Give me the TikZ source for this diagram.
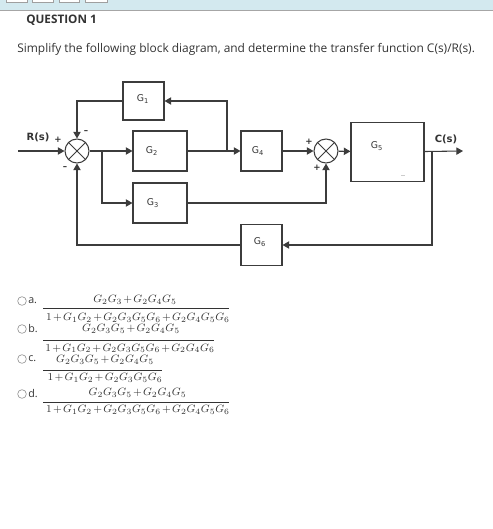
\documentclass[tikz,border=0pt]{standalone}
\usepackage{fontspec}
\setmainfont{Open Sans}
\newfontfamily\dejavu{DejaVu Sans}
\usetikzlibrary{arrows.meta}
\definecolor{band}{HTML}{D3E9EF}
\definecolor{ink}{HTML}{333333}
\definecolor{wire}{HTML}{3C3C3C}
\newcommand\eqm[1]{$\medmuskip=2mu\relax #1$}
\tikzset{
  blk/.style={draw=wire, line width=0.8pt, rectangle, inner sep=0pt},
  glab/.style={font=\dejavu\fontsize{7}{8}\selectfont, text=ink, inner sep=0pt},
  sumj/.style={draw=wire, line width=0.8pt, circle, minimum size=18pt, inner sep=0pt, fill=white},
  arr/.style={draw=wire, line width=0.8pt, -{Triangle[length=5pt,width=5.5pt]}},
  wireln/.style={draw=wire, line width=0.8pt},
  sgn/.style={font=\dejavu\bfseries\fontsize{6.5}{7}\selectfont, text=ink, inner sep=0pt},
  sig/.style={font=\dejavu\bfseries\fontsize{7.5}{8}\selectfont, text=ink, inner sep=0pt},
  radio/.style={draw=gray!80, line width=0.5pt, circle, minimum size=6.5pt, inner sep=0pt, fill=white},
  opt/.style={font=\fontsize{8}{9}\selectfont, text=ink, inner sep=0pt, anchor=west},
  eq/.style={font=\fontsize{8.3}{10}\selectfont, text=ink, inner sep=0pt},
  fracln/.style={draw=ink, line width=0.5pt},
}
\begin{document}
\begin{tikzpicture}[x=0.75pt,y=-0.75pt]
\useasboundingbox (0,0) rectangle (493,529);
% top band
\fill[band] (0,0) rectangle (493,10);
\draw[gray!70, line width=0.8pt] (0,10.5) -- (493,10.5);
\foreach \a/\b in {6/27,32/53,59/79,85/107}
  \draw[gray!75, fill=white, line width=0.6pt] (\a,-2) rectangle (\b,2.5);
% title
\node[font=\bfseries\fontsize{8.8}{11}\selectfont, text=ink, anchor=west, inner sep=0pt] (title) at (26,20) {QUESTION 1};
\node[font=\fontsize{8.95}{12}\selectfont, text=ink, anchor=west, inner sep=0pt] (question) at (17,49) {Simplify the following block diagram, and determine the transfer function C(s)/R(s).};

% blocks
\node[blk, minimum width=30.75pt, minimum height=28.5pt] (g1) at (143.5,101) {};
\node[blk, minimum width=40.5pt, minimum height=30pt] (g2) at (160,151) {};
\node[blk, minimum width=40.5pt, minimum height=30pt] (g3) at (160,203) {};
\node[blk, minimum width=30.75pt, minimum height=30pt] (g4) at (261.5,151) {};
\node[blk, minimum width=54.75pt, minimum height=44.25pt] (g5) at (387.5,152) {};
\node[blk, minimum width=30.75pt, minimum height=30.75pt] (g6) at (261.5,245) {};
\node[glab] (l1) at (143,99) {G\textsubscript{1}};
\node[glab] (l2) at (152,151) {G\textsubscript{2}};
\node[glab] (l3) at (153,203) {G\textsubscript{3}};
\node[glab] (l4) at (258,151) {G\textsubscript{4}};
\node[glab] (l5) at (377,146) {G\textsubscript{5}};
\node[glab] (l6) at (260,242) {G\textsubscript{6}};
\draw[gray!40, line width=0.5pt] (401,175) -- (405,175);

% summing junctions
\node[sumj] (s1) at (77,151) {};
\node[sumj] (s2) at (326,151) {};
\draw[wireln, line width=0.6pt] (s1.north west) -- (s1.south east) (s1.north east) -- (s1.south west);
\draw[wireln, line width=0.6pt] (s2.north west) -- (s2.south east) (s2.north east) -- (s2.south west);

% coordinates
\coordinate (rin) at (18,151);
\coordinate (cout) at (463,151);
\coordinate (b1) at (102,151);
\coordinate (b2) at (227,151);
\coordinate (b3) at (432,151);

% connectors
\draw[arr] (rin) -- (s1);
\draw[arr] (s1) -- (g2);
\draw[arr] (b1) |- (g3);
\draw[arr] (g2) -- (g4);
\draw[arr] (b2) |- (g1);
\draw[arr] (g1) -| (s1);
\draw[arr] (g4) -- (s2);
\draw[arr] (g3) -| (s2);
\draw[arr] (s2) -- (g5);
\draw[arr] (g5) -- (cout);
\draw[arr] (b3) |- (g6);
\draw[arr] (g6) -| (s1);

% signals and signs
\node[sig] (rs) at (38,137) {R(s)};
\node[sig] (cs) at (446,139) {C(s)};
\node[sgn] (p1) at (58,140) {+};
\node[sgn] (m1) at (86,132) {–};
\node[sgn] (m2) at (65,168) {–};
\node[sgn] (p2) at (309,142) {+};
\node[sgn] (p3) at (317,168) {+};

% answers
\node[radio] (ra) at (22,301) {};
\node[radio] (rb) at (22,329) {};
\node[radio] (rc) at (22,359) {};
\node[radio] (rd) at (22,394) {};
\node[opt] (oa) at (28,301) {a.};
\node[opt] (ob) at (28,329) {b.};
\node[opt] (oc) at (28,359) {c.};
\node[opt] (od) at (28,394) {d.};

\node[eq] (na) at (135,300) {\eqm{G_2G_3+G_2G_4G_5}};
\draw[fracln] (43,308) -- (229,308);
\node[eq] (da) at (138,318) {\eqm{1+G_1G_2+G_2G_3G_5G_6+G_2G_4G_5G_6}};

\node[eq] (nb) at (131,329) {\eqm{G_2G_3G_5+G_2G_4G_5}};
\draw[fracln] (43,340) -- (214,340);
\node[eq] (db) at (130,348.5) {\eqm{1+G_1G_2+G_2G_3G_5G_6+G_2G_4G_6}};

\node[eq] (nc) at (105,360) {\eqm{G_2G_3G_5+G_2G_4G_5}};
\draw[fracln] (43,370) -- (162,370);
\node[eq] (dc) at (105,378) {\eqm{1+G_1G_2+G_2G_3G_5G_6}};

\node[eq] (nd) at (137.5,393) {\eqm{G_2G_3G_5+G_2G_4G_5}};
\draw[fracln] (43,402) -- (229,402);
\node[eq] (dd) at (138,410) {\eqm{1+G_1G_2+G_2G_3G_5G_6+G_2G_4G_5G_6}};
\end{tikzpicture}
\end{document}
